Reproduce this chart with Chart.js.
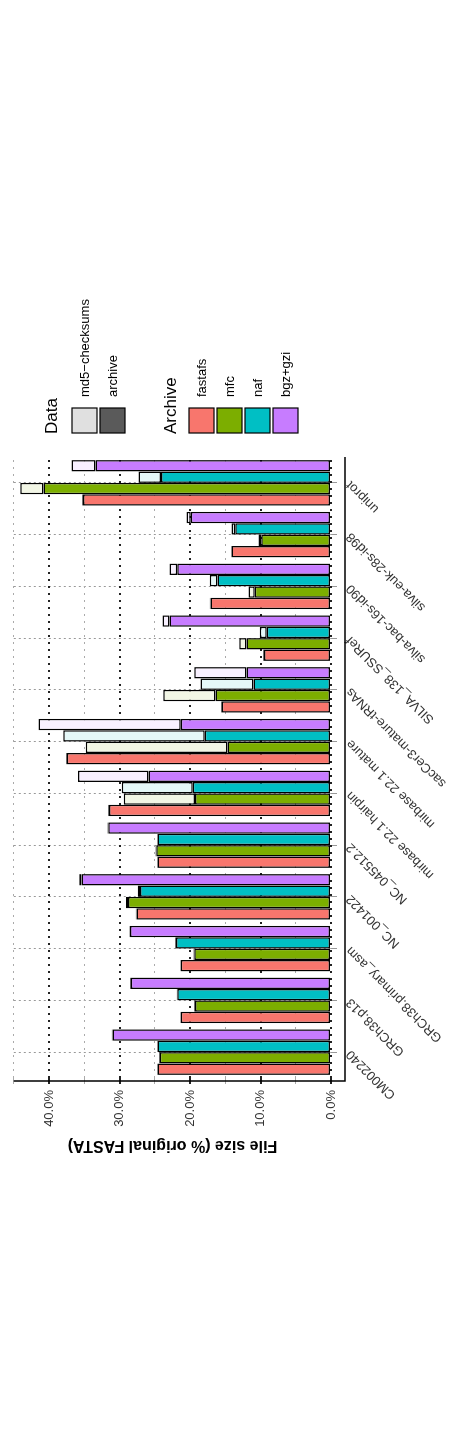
<!DOCTYPE html>
<html>
<head>
<meta charset="utf-8">
<script src="https://cdn.jsdelivr.net/npm/chart.js@4"></script>
<style>
  html, body { margin: 0; padding: 0; background: #fff; overflow: hidden; }
  #wrap {
    position: absolute; left: 0; top: 0; width: 1444px; height: 474px;
    transform-origin: 0 0; transform: translate(0, 1444px) rotate(-90deg);
  }
</style>
</head>
<body>
<div id="wrap"><canvas id="chart" width="1444" height="474"></canvas></div>
<script>
(function () {
    "use strict";

    // Data (% of original FASTA size)
    var categories = ["CM002240", "GRCh38.p13", "GRCh38.primary_asm", "NC_001422", "NC_045512.2",
        "mirbase 22.1 hairpin", "mirbase 22.1 mature", "sacCer3-mature-tRNAs", "SILVA_138_SSURef",
        "silva-bac-16s-id90", "silva-euk-28s-id98", "uniprot"];
    var archives = ["fastafs", "mfc", "naf", "bgz+gzi"];
    var archiveColors = ["#F8766D", "#7CAE00", "#00BFC4", "#C77CFF"];
    var md5Colors = ["#FEF1F0", "#F2F6E5", "#E5F8F8", "#F8F0FF"];

    var fastafsArchive = [24.6, 21.3, 21.3, 27.6, 24.6, 31.5, 37.5, 15.5, 9.5, 17.1, 14.1, 35.2];
    var fastafsMd5     = [0.1, 0.1, 0.1, 0.1, 0.1, 0.1, 0.1, 0.1, 0.1, 0.1, 0.1, 0.1];
    var mfcArchive     = [24.3, 19.3, 19.4, 28.8, 24.8, 19.3, 14.7, 16.4, 12.0, 10.8, 9.9, 40.8];
    var mfcMd5         = [0.1, 0.1, 0.1, 0.3, 0.1, 10.1, 20.1, 7.4, 1.0, 0.9, 0.4, 3.3];
    var nafArchive     = [24.6, 21.8, 22.0, 27.1, 24.6, 19.6, 17.9, 11.0, 9.1, 16.1, 13.6, 24.1];
    var nafMd5         = [0.1, 0.1, 0.1, 0.3, 0.1, 10.1, 20.1, 7.5, 1.0, 1.1, 0.5, 3.2];
    var bgzArchive     = [31.0, 28.4, 28.5, 35.4, 31.6, 25.9, 21.3, 12.0, 22.9, 21.8, 19.9, 33.4];
    var bgzMd5         = [0.1, 0.1, 0.1, 0.3, 0.1, 10.0, 20.2, 7.4, 1.0, 1.1, 0.6, 3.4];

    var yTicks = [0, 10, 20, 30, 40];

    var archiveData = [fastafsArchive, mfcArchive, nafArchive, bgzArchive];
    var md5Data = [fastafsMd5, mfcMd5, nafMd5, bgzMd5];

    var FONT = "'Liberation Sans', Arial, sans-serif";

    var datasets = [];
    archives.forEach(function (name, i) {
        datasets.push({ label: name + " archive", data: archiveData[i], stack: name,
            backgroundColor: archiveColors[i], borderColor: "#000", borderWidth: 1.5, borderSkipped: false });
        datasets.push({ label: name + " md5-checksums", data: md5Data[i], stack: name,
            backgroundColor: md5Colors[i], borderColor: "#000", borderWidth: 1.5, borderSkipped: false });
    });

    // axis lines + grouped legend, ggplot style
    var extras = {
        id: "extras",
        afterDraw: function (chart) {
            var c = chart.ctx, a = chart.chartArea;
            c.save();
            c.strokeStyle = "#000"; c.lineWidth = 1.5;
            c.beginPath();
            c.moveTo(a.left - 3, a.top); c.lineTo(a.left - 3, a.bottom + 14);
            c.lineTo(a.right, a.bottom + 14);
            c.stroke();

            c.fillStyle = "#000"; c.textBaseline = "middle";
            c.font = "17px " + FONT;
            c.fillText("Data", 1010, 52);
            c.fillText("Archive", 1010, 171);
            var items = [["md5\u2212checksums", "#E0E0E0", 72], ["archive", "#5A5A5A", 100]];
            archives.forEach(function (n, i) { items.push([n, archiveColors[i], 189 + i * 28]); });
            c.font = "13px " + FONT;
            items.forEach(function (it) {
                c.fillStyle = it[1];
                c.fillRect(1011, it[2], 25, 25);
                c.strokeStyle = "#000"; c.lineWidth = 1.2;
                c.strokeRect(1011, it[2], 25, 25);
                c.fillStyle = "#000";
                c.fillText(it[0], 1047, it[2] + 13);
            });
            c.restore();
        }
    };

    new Chart(document.getElementById("chart").getContext("2d"), {
        type: "bar",
        data: { labels: categories, datasets: datasets },
        options: {
            responsive: false,
            animation: false,
            layout: { padding: { left: 285, right: 457, top: 8, bottom: 0 } },
            plugins: { legend: { display: false }, tooltip: { enabled: false } },
            datasets: { bar: { categoryPercentage: 0.88, barPercentage: 1.0 } },
            scales: {
                x: {
                    stacked: true,
                    afterFit: function (s) { s.height = 143; },
                    grid: { color: "#999", lineWidth: 1, offset: false, drawTicks: true, tickLength: 6 },
                    border: { display: false, dash: [2, 3] },
                    ticks: { autoSkip: false, minRotation: 45, maxRotation: 45, padding: 6,
                        color: "#333", font: { family: FONT, size: 13 } }
                },
                y: {
                    stacked: true,
                    min: 0, max: 45,
                    afterFit: function (s) { s.width = 81; },
                    afterBuildTicks: function (s) {
                        s.ticks = [0, 5, 10, 15, 20, 25, 30, 35, 40, 45].map(function (v) { return { value: v }; });
                    },
                    grid: {
                        color: function (ctx) { return ctx.tick && yTicks.indexOf(ctx.tick.value) >= 0 ? "#222" : "#aaa"; },
                        lineWidth: function (ctx) { return ctx.tick && yTicks.indexOf(ctx.tick.value) >= 0 ? 2 : 1; },
                        tickLength: 6
                    },
                    border: { display: false, dash: [2, 5] },
                    ticks: {
                        color: "#333", font: { family: FONT, size: 13 }, padding: 6,
                        callback: function (v) { return yTicks.indexOf(v) >= 0 ? v.toFixed(1) + "%" : ""; }
                    },
                    title: { display: true, text: "File size (% original FASTA)", color: "#000",
                        font: { family: FONT, size: 16, weight: "bold" }, padding: 4 }
                }
            }
        },
        plugins: [extras]
    });
})();
</script>
</body>
</html>
